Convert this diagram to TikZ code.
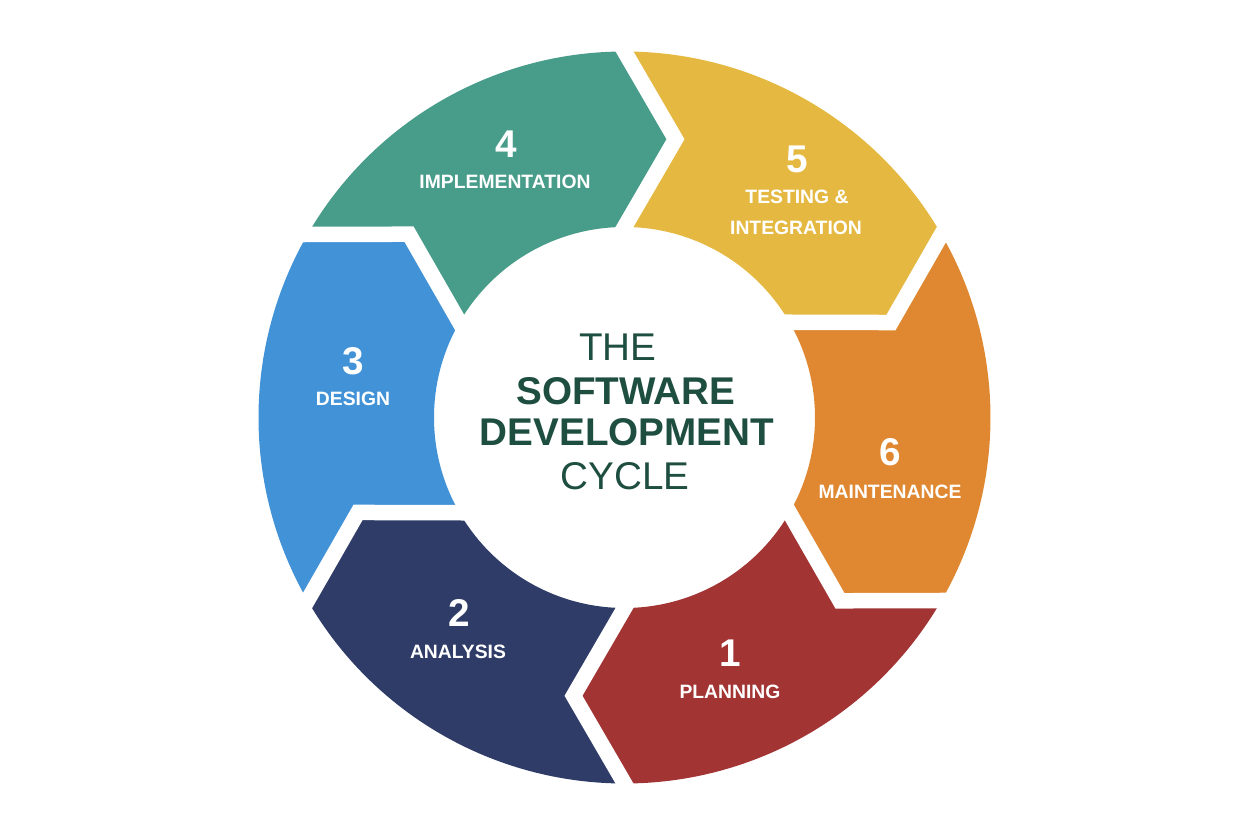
\documentclass[tikz,border=0pt]{standalone}
\usepackage{fontspec}
\setmainfont{Liberation Sans}
\usetikzlibrary{calc}
\definecolor{planred}{HTML}{A23434}
\definecolor{anavy}{HTML}{2E3C67}
\definecolor{desblue}{HTML}{4192D6}
\definecolor{impteal}{HTML}{489C8A}
\definecolor{testyellow}{HTML}{E5B941}
\definecolor{maintorange}{HTML}{E08831}
\definecolor{titlegreen}{HTML}{1E4E40}
\begin{document}
\begin{tikzpicture}[
	num/.style={text=white,font=\fontsize{22}{26}\selectfont\bfseries},
	lab/.style={text=white,font=\fontsize{11}{13}\selectfont\bfseries},
	ttl/.style={text=titlegreen,font=\fontsize{22}{26}\selectfont},
	ttlb/.style={text=titlegreen,font=\fontsize{22}{26}\selectfont\bfseries},
	gapline/.style={white,line width=0.31cm,line join=miter,shorten <=-6pt,shorten >=-6pt}]
		\def\outr{7.32} \def\inr{3.81} \def\midr{5.565} \def\tipd{1.02}
		\useasboundingbox (-12.49,-8.37) rectangle (12.59,8.35);
		\foreach \a/\c in {-30/planred,-90/anavy,-150/desblue,150/impteal,90/testyellow,30/maintorange}
			\fill[\c] (\a:\outr) -- ($(\a:\midr)+(\a-90:\tipd)$) -- (\a:\inr) arc[start angle=\a,end angle=\a-60,radius=\inr]
				-- ($(\a-60:\midr)+(\a-150:\tipd)$) -- (\a-60:\outr) arc[start angle=\a-60,end angle=\a,radius=\outr] -- cycle;
		\foreach \a in {90,30,-30,-90,-150,150}
			\draw[gapline] (\a:\inr) -- ($(\a:\midr)+(\a-90:\tipd)$) -- (\a:\outr);
		\node[num] (n1) at (2.11,-4.71) {1};
		\node[lab] (t1) at (2.11,-5.49) {PLANNING};
		\node[num] (n2) at (-3.31,-3.91) {2};
		\node[lab] (t2) at (-3.33,-4.69) {ANALYSIS};
		\node[num] (n3) at (-5.43,1.13) {3};
		\node[lab] (t3) at (-5.43,0.37) {DESIGN};
		\node[num] (n4) at (-2.37,5.47) {4};
		\node[lab] (t4) at (-2.39,4.71) {IMPLEMENTATION};
		\node[num] (n5) at (3.45,5.17) {5};
		\node[lab] (t5a) at (3.45,4.41) {TESTING \&};
		\node[lab] (t5b) at (3.43,3.79) {INTEGRATION};
		\node[num] (n6) at (5.31,-0.69) {6};
		\node[lab] (t6) at (5.31,-1.49) {MAINTENANCE};
		\node[ttl] (the) at (-0.13,1.41) {THE};
		\node[ttlb] (soft) at (0.03,0.53) {SOFTWARE};
		\node[ttlb] (dev) at (0.05,-0.29) {DEVELOPMENT};
		\node[ttl] (cyc) at (0.01,-1.17) {CYCLE};
	    \end{tikzpicture}
\end{document}
